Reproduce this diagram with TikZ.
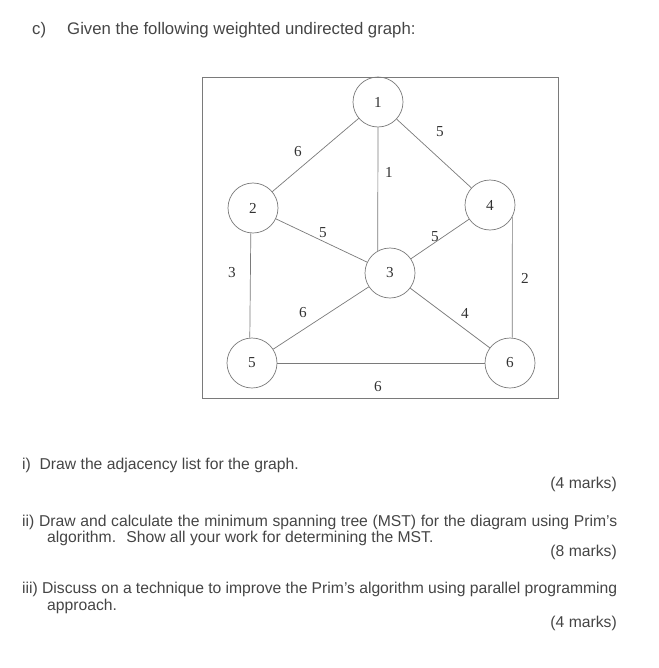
\documentclass[tikz,border=0pt]{standalone}
\usepackage{fontspec}
\setmainfont{Liberation Sans}
\newfontfamily\graphfont{Liberation Serif}
\usepackage{xcolor}
\usetikzlibrary{calc, positioning}

\definecolor{textgray}{HTML}{454545}
\definecolor{linegray}{HTML}{7A7A7A}

\begin{document}
\begin{tikzpicture}[x=0.03cm, y=-0.03cm,
    vertex/.style={circle, draw=linegray, line width=0.6pt, minimum size=1.5cm, inner sep=0pt,
        text=black!80, font=\graphfont\fontsize{13}{15}\selectfont},
    weight/.style={inner sep=1pt, text=black!80, font=\graphfont\fontsize{13}{15}\selectfont},
    link/.style={draw=linegray, line width=0.6pt},
    question/.style={anchor=west, inner sep=0pt, text=textgray, font=\fontsize{13.4}{15}\selectfont},
    marks/.style={anchor=east, inner sep=0pt, text=textgray, font=\fontsize{13.4}{15}\selectfont}]

    \useasboundingbox (0,0) rectangle (658,668);

    % =================================================================
    % 1. TIÊU ĐỀ
    % =================================================================
    \node[question, font=\fontsize{14.3}{17}\selectfont] (partc) at (32, 30) {c)};
    \node[question, font=\fontsize{14.3}{17}\selectfont] (title) at (67, 30) {Given the following weighted undirected graph:};

    % =================================================================
    % 2. KHUNG VÀ CÁC ĐỈNH CỦA ĐỒ THỊ
    % =================================================================
    \draw[linegray, line width=0.8pt] (202, 77) rectangle (558, 398);

    \node[vertex] (n1) at (378, 102) {1};
    \node[vertex] (n2) at (253, 208) {2};
    \node[vertex] (n3) at (390, 273) {3};
    \node[vertex] (n4) at (490, 205) {4};
    \node[vertex] (n5) at (252, 363) {5};
    \node[vertex] (n6) at (510, 363) {6};

    % =================================================================
    % 3. CÁC CẠNH
    % =================================================================
    \draw[link] (n1) -- (n2);
    \draw[link] (n1) -- (n4);
    \draw[link] (n1.south) -- (n3.119);
    \draw[link] (n2) -- (n3);
    \draw[link] (n4) -- (n3);
    \draw[link] (n2.265) -- (n5.95);
    \draw[link] (n4.-28) -- (n6.85);
    \draw[link] (n3) -- (n5);
    \draw[link] (n3) -- (n6);
    \draw[link] (n5) -- (n6);

    % =================================================================
    % 4. TRỌNG SỐ CÁC CẠNH
    % =================================================================
    \node[weight] (w12) at (298, 152) {6};
    \node[weight] (w14) at (440, 132) {5};
    \node[weight] (w13) at (389, 172) {1};
    \node[weight] (w23) at (323, 233) {5};
    \node[weight] (w43) at (435, 237) {5};
    \node[weight] (w25) at (232, 273) {3};
    \node[weight] (w46) at (525, 278) {2};
    \node[weight] (w35) at (303, 313) {6};
    \node[weight] (w36) at (465, 313) {4};
    \node[weight] (w56) at (378, 387) {6};

    % =================================================================
    % 5. CÁC CÂU HỎI
    % =================================================================
    \node[question] (qi) at (22, 465) {i) \ Draw the adjacency list for the graph.};
    \node[marks] (mi) at (617, 484) {(4 marks)};

    \node[question] (qii) at (22, 522) {\makebox[17.85cm][s]{ii) Draw and calculate the minimum spanning tree (MST) for the diagram using Prim's}};
    \node[question] (qiib) at (47, 538) {algorithm. \ Show all your work for determining the MST.};
    \node[marks] (mii) at (617, 552) {(8 marks)};

    \node[question] (qiii) at (22, 589) {\makebox[17.85cm][s]{iii) Discuss on a technique to improve the Prim's algorithm using parallel programming}};
    \node[question] (qiiib) at (47, 606) {approach.};
    \node[marks] (miii) at (617, 623) {(4 marks)};

\end{tikzpicture}
\end{document}
